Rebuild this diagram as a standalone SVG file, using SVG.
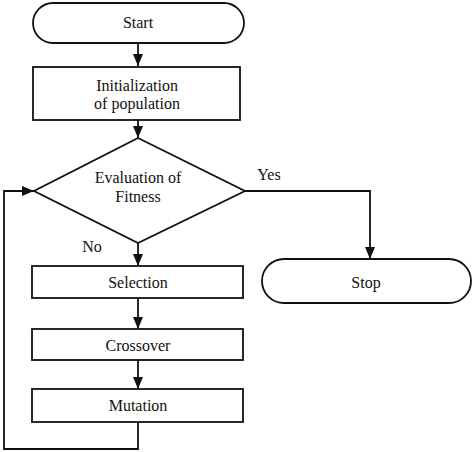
<svg xmlns="http://www.w3.org/2000/svg" width="474" height="452" viewBox="0 0 474 452">
<style>
.s{fill:#fff;stroke:#111;stroke-width:1.8}
.t{font-family:"Liberation Serif","Times New Roman",serif;font-size:16px;fill:#111;text-anchor:middle}
.c{fill:none;stroke:#111;stroke-width:1.8}
</style>
<defs>
<marker id="m" viewBox="0 0 12 10" refX="12" refY="5" markerWidth="12" markerHeight="10" markerUnits="userSpaceOnUse" orient="auto">
<path d="M0,0 L12,5 L0,10 z" fill="#111"/>
</marker>
</defs>
<rect width="474" height="452" fill="#fff"/>
<g id="connectors">
<line class="c" x1="138" y1="43" x2="138" y2="66" marker-end="url(#m)"/>
<line class="c" x1="138" y1="120" x2="138" y2="138" marker-end="url(#m)"/>
<line class="c" x1="138" y1="243" x2="138" y2="266" marker-end="url(#m)"/>
<line class="c" x1="138" y1="298" x2="138" y2="329" marker-end="url(#m)"/>
<line class="c" x1="138" y1="360" x2="138" y2="389" marker-end="url(#m)"/>
<polyline class="c" points="138,422 138,449 4,449 4,191 34,191" marker-end="url(#m)"/>
<polyline class="c" points="245,191 370,191 370,259" marker-end="url(#m)"/>
<text class="t" x="269" y="180">Yes</text>
<text class="t" x="92" y="252">No</text>
</g>
<g id="start">
<rect class="s" x="33" y="3" width="211" height="40" rx="20"/>
<text class="t" x="138" y="28">Start</text>
</g>
<g id="init">
<rect class="s" x="33" y="67" width="207" height="53"/>
<text class="t" x="137" y="91">Initialization</text>
<text class="t" x="137" y="109">of population</text>
</g>
<g id="eval">
<polygon class="s" points="138,138 245,191 138,243 34,191"/>
<text class="t" x="138" y="183">Evaluation of</text>
<text class="t" x="138" y="202">Fitness</text>
</g>
<g id="selection">
<rect class="s" x="32" y="266" width="211" height="32"/>
<text class="t" x="138" y="288">Selection</text>
</g>
<g id="crossover">
<rect class="s" x="32" y="329" width="211" height="31"/>
<text class="t" x="138" y="351">Crossover</text>
</g>
<g id="mutation">
<rect class="s" x="32" y="389" width="211" height="33"/>
<text class="t" x="138" y="411">Mutation</text>
</g>
<g id="stop">
<rect class="s" x="262" y="259" width="209" height="44" rx="22"/>
<text class="t" x="366" y="288">Stop</text>
</g>
</svg>
